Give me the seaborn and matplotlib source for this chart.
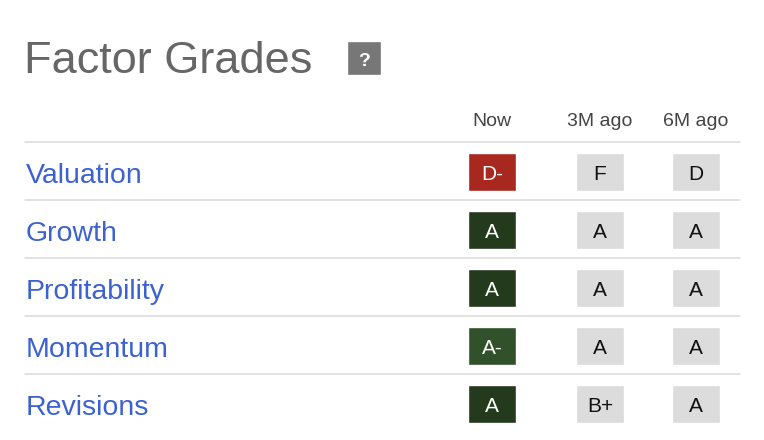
import matplotlib
matplotlib.use("Agg")
import matplotlib.pyplot as plt
import seaborn as sns

factors = ["Valuation", "Growth", "Profitability", "Momentum", "Revisions"]
columns = ["Now", "3M ago", "6M ago"]
now = ["D-", "A", "A", "A-", "A"]
m3 = ["F", "A", "A", "A", "B+"]
m6 = ["D", "A", "A", "A", "A"]

grade_colors = {"D-": "#a8281f", "A": "#233b1c", "A-": "#30512a"}

sns.set_theme(style="white")
plt.rcParams["font.family"] = ["Liberation Sans", "DejaVu Sans"]

fig = plt.figure(figsize=(7.64, 4.40), dpi=100)
ax = fig.add_axes([0, 0, 1, 1])
ax.set_xlim(0, 764)
ax.set_ylim(440, 0)
ax.axis("off")

ax.text(24, 57, "Factor Grades", fontsize=32.5, color="#666666", va="center_baseline", ha="left")
ax.bar(364, 34, bottom=41, width=34, color="#777777")
ax.text(364, 59, "?", fontsize=14, color="white", fontweight="bold", ha="center", va="center_baseline")

col_x = [492, 600, 696]
row_y = [172, 230, 288, 346, 404]

for cx, name in zip(col_x, columns):
    ax.text(cx, 119, name, fontsize=14, color="#444444", ha="center", va="center_baseline")

for y in [142, 200, 258, 316, 374]:
    ax.plot([25, 740], [y, y], color="#dddddd", lw=1.2)

for i, f in enumerate(factors):
    y = row_y[i]
    ax.text(26, y + 1, f, fontsize=20.5, color="#3b62d0", ha="left", va="center_baseline")
    for j, g in enumerate([now[i], m3[i], m6[i]]):
        if j == 0:
            fc, tc = grade_colors[g], "white"
        else:
            fc, tc = "#dcdcdc", "#111111"
        ax.bar(col_x[j], 38, bottom=y - 19, width=48, color=fc)
        ax.text(col_x[j], y + 1, g, fontsize=15, color=tc, ha="center", va="center_baseline")

fig.savefig("out.png", dpi=100)
